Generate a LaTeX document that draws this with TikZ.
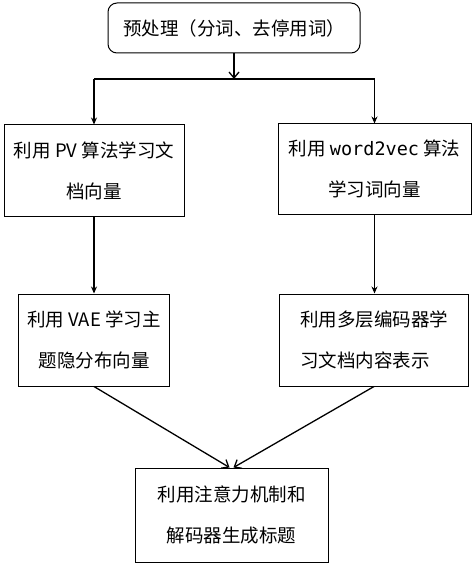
\documentclass[tikz,border=0pt]{standalone}
\usepackage{fontspec}
\setmainfont{Noto Sans CJK SC}
\setmonofont{DejaVu Sans Mono}
\usetikzlibrary{arrows.meta}

\tikzset{
	box/.style={draw, line width=1pt, inner sep=0pt, align=center,
		font=\fontsize{18.5}{41}\selectfont},
	arr/.style={line width=1.3pt, -{Stealth[length=7pt,width=6pt]}},
	open/.style={line width=1.3pt, -{Straight Barb[length=6pt,width=10pt]}},
}

\begin{document}
\begin{tikzpicture}[x=1pt, y=-1pt]
			\useasboundingbox (0,0) rectangle (474,564);
			\node[box, rounded corners=9pt, minimum width=252pt, minimum height=50pt] (pre) at (234,28) {预处理（分词、去停用词）};
			\node[box, minimum width=180pt, minimum height=91pt] (pv) at (94,170.5) {利用 PV 算法学习文\\档向量};
			\node[box, minimum width=193pt, minimum height=90pt] (w2v) at (374.5,169) {利用 \texttt{word2vec} 算法\\学习词向量};
			\node[box, minimum width=151pt, minimum height=92pt] (vae) at (94,340) {利用 VAE 学习主\\题隐分布向量};
			\node[box, align=left, minimum width=189pt, minimum height=92pt] (enc) at (374,340) {利用多层编码器学\\习文档内容表示};
			\node[box, minimum width=193pt, minimum height=94pt] (att) at (231.5,515) {利用注意力机制和\\解码器生成标题};
			
			\coordinate (split) at (234,79);
			\coordinate (splitl) at (pv.north |- split);
			\coordinate (splitr) at (w2v.north |- split);
			
			\draw[open] (pre) to (split);
			\draw[line width=1.3pt] (splitl) to (splitr);
			\draw[arr] (splitl) to (pv);
			\draw[arr] (splitr) to (w2v);
			
			\draw[arr] (pv) to (vae);
			\draw[arr] (w2v.south) to (w2v.south |- enc.north);
			
			\draw[open] (vae.south) to ([xshift=-2pt]att.north);
			\draw[open] (enc.south) to ([xshift=2pt]att.north);
			
		\end{tikzpicture}
\end{document}
